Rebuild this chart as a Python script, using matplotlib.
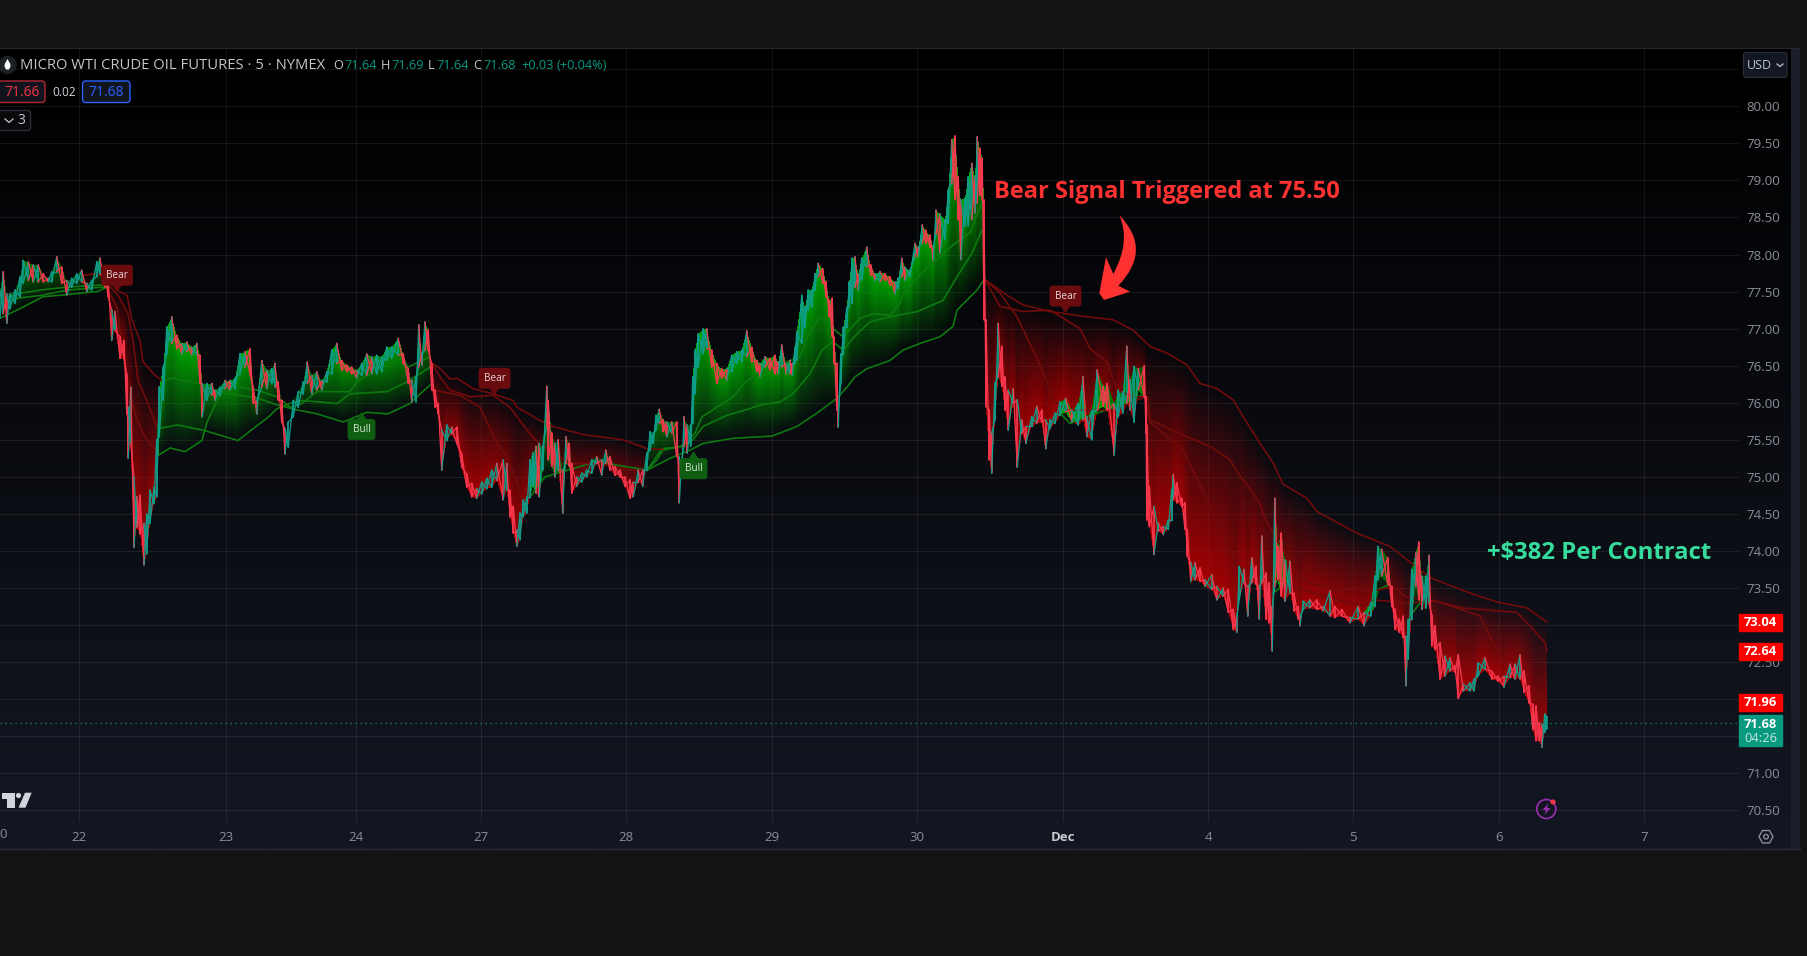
import numpy as np
import matplotlib
matplotlib.use("Agg")
import matplotlib.pyplot as plt
from matplotlib.patches import Rectangle, Polygon, Circle, FancyBboxPatch, PathPatch
from matplotlib.path import Path

plt.rcParams['font.family'] = ['Open Sans', 'DejaVu Sans']

# Constants
WIDTH, HEIGHT = 1807, 956
PANE_RIGHT = 1739
PANE_TOP, PANE_BOTTOM = 48, 821.6
PRICE_TOP, PRICE_BOTTOM = 80.787, 70.347
OUTER_COLOR = '#131313'
TEAL = '#0f9d8c'
RED = '#f8384f'
AXIS_TEXT = '#8b8e97'
MA_RED = '#720b0b'
MA_GREEN = '#0d7a10'

# Axis values
price_ticks = [70.5, 71.0, 71.5, 72.0, 72.5, 73.0, 73.5, 74.0, 74.5, 75.0,
               75.5, 76.0, 76.5, 77.0, 77.5, 78.0, 78.5, 79.0, 79.5, 80.0, 80.5]
date_pos = [79.3, 225.5, 355.5, 480.5, 625.7, 771.7, 917.3, 1063.3, 1208, 1353, 1499, 1644]
date_labels = ['22', '23', '24', '27', '28', '29', '30', 'Dec', '4', '5', '6', '7']

# Bars
bar_x = [0, 3.3, 6.7, 10, 15, 20, 23.3, 28.3, 33.3, 38.3, 43.3, 48.3, 51.7, 56.7, 61.7, 66.7, 71.7, 76.7, 81.7, 86.7,
         91.7, 96.7, 100, 105, 108.3, 111.7, 115, 120, 124, 126.7, 128.3, 130.7, 134, 136.7, 140, 144, 146.7, 150, 154, 156.7,
         159.3, 163.3, 166.7, 171.7, 176.7, 181.7, 186.7, 191.7, 196.7, 200, 202.3, 206.7, 211.7, 215, 220, 225, 230, 235, 240, 245,
         250, 253.3, 256.7, 261.7, 266.7, 271.7, 275, 278.3, 281.7, 285, 288.3, 293.3, 298.3, 303.3, 307.3, 311.7, 316.7, 321.7, 326.7, 331.7,
         336.7, 341.7, 346.7, 351.7, 356.7, 361.7, 366.7, 371.7, 376.7, 381.7, 386.7, 391.7, 398.3, 403.3, 408.3, 411.7, 416, 418.7, 421.7, 425,
         428.3, 431.7, 435, 438.3, 441.7, 446.7, 451.7, 456.7, 461.7, 466.7, 471.7, 476.7, 481.7, 486.7, 491.7, 496.7,
         503.3, 506.7, 510, 513.3, 516.7, 520, 523.3, 526.7, 530, 532.7, 536, 539.3, 542.7, 546.7, 548.3, 551.7, 555, 558.3, 562.7, 566,
         569.3, 571.7, 576.7, 581.7, 586.7, 591.7, 596.7, 601.7, 605.7, 610, 615, 620, 625, 630, 633.3, 638.3, 642.7, 646.7, 650, 653.3,
         656, 659.3, 663.3, 666.7, 671.7, 676.7, 679.3, 681.7, 684, 687.3, 690.7, 692.7, 695, 698.3, 703.3, 706.7, 711.7, 716.7, 721.7, 726.7,
         731.7, 736.7, 741.7, 746.7, 751.7, 756.7,
         760, 765, 770, 775, 778.3, 781.7, 786, 790, 792.3, 795, 796.7, 801.7, 805, 808.3, 811.7, 815, 818.3, 822.7, 826, 829.3,
         832.3, 834, 836.7, 838.3, 840.7, 843.3, 846.7, 849.3, 852, 855, 858.3, 861.7, 866.7, 870.7, 875, 880, 885, 890, 895, 898.3,
         901.7, 905, 910, 915, 918.3, 922.3, 925.7, 930, 933.3, 936,
         940, 945, 948.3, 951.7, 955, 958.3, 960.7, 965, 968.3, 971.7, 975, 977.3, 980, 982.3, 984, 986, 989.3, 991.7, 995, 998.3,
         1001.7, 1005, 1008.3, 1013.3, 1017.3, 1021.7, 1026, 1031.7, 1036.7, 1041.7, 1045.7, 1050, 1055, 1060, 1065.7, 1071.7, 1078.3, 1083, 1086.7, 1091.7,
         1097.3, 1103.3, 1107.3, 1114.3, 1118.3, 1122.7, 1126.7, 1130, 1134, 1138.3, 1144.3, 1146,
         1146.7, 1149.3, 1154, 1158.3, 1163.3, 1168.3, 1171.7, 1173.3, 1176.7, 1181.7, 1185, 1187.3, 1190.7, 1195, 1200, 1205, 1211.7, 1216.7, 1223.3, 1228.3,
         1233.3, 1236.7, 1239.3, 1244, 1247.7, 1251.7, 1256, 1259.3, 1261.7, 1266, 1269.3, 1272.3, 1274.7, 1277.7, 1281.3, 1285, 1290, 1294, 1298.3, 1300,
         1303.3, 1310, 1316.7, 1323.3, 1330, 1335, 1341.7, 1350, 1358.3, 1364, 1370.7, 1375, 1377.7, 1381.7, 1387.7, 1391.7, 1395, 1399.3, 1403.3, 1406,
         1408.3, 1411.7, 1415.7, 1418.7, 1422, 1426, 1429, 1431.7, 1435, 1440, 1445, 1450, 1455, 1458.3, 1463.3, 1470, 1474, 1478.3, 1485, 1491.7,
         1498.3, 1504, 1510, 1515, 1520, 1524, 1529, 1532.7, 1536, 1539.3, 1542, 1544.7, 1546.7]
bar_high = [77.52, 77.77, 77.47, 77.47, 77.52, 77.7, 77.92, 77.9, 77.86, 77.86, 77.74, 77.68, 77.77, 77.97, 77.83, 77.65, 77.68, 77.74, 77.79, 77.61,
            77.65, 77.9, 77.95, 77.74, 77.63, 77.25, 77.23, 76.89, 76.84, 76.39, 75.94, 76.21, 75.0, 74.73, 74.75, 74.37, 74.5, 74.82, 74.86, 75.5,
            76.21, 76.48, 77.02, 77.16, 76.91, 76.8, 76.82, 76.75, 76.8, 76.64, 76.26, 76.26, 76.26, 76.17, 76.21, 76.3, 76.3, 76.33, 76.66, 76.69,
            76.73, 76.21, 76.03, 76.57, 76.44, 76.46, 76.53, 76.28, 76.03, 75.65, 75.74, 76.03, 76.15, 76.28, 76.55, 76.37, 76.42, 76.3, 76.42, 76.71,
            76.8, 76.57, 76.51, 76.48, 76.44, 76.53, 76.66, 76.62, 76.64, 76.62, 76.75, 76.75, 76.87, 76.66, 76.46, 76.3, 76.35, 77.05, 76.66, 77.09,
            76.98, 76.53, 76.17, 75.99, 75.63, 75.7, 75.67, 75.67, 75.31, 75.04, 74.91, 74.84, 74.93, 74.98, 75.09, 75.18,
            75.23, 75.18, 74.82, 74.6, 74.28, 74.51, 74.69, 74.73, 75.23, 75.32, 75.41, 75.45, 75.41, 76.22, 76.03, 75.59, 75.45, 75.5, 75.09, 75.54,
            75.45, 75.18, 75.0, 75.05, 75.09, 75.23, 75.27, 75.23, 75.36, 75.27, 75.14, 75.09, 75.0, 74.96, 74.93, 75.09, 75.09, 75.32, 75.61, 75.59,
            75.83, 75.91, 75.77, 75.74, 75.74, 75.74, 75.27, 75.23, 75.81, 75.7, 75.7, 76.35, 76.71, 76.93, 77.0, 77.0, 76.71, 76.53, 76.46, 76.46,
            76.64, 76.69, 76.71, 76.97, 76.75, 76.57,
            76.53, 76.62, 76.6, 76.64, 76.55, 76.78, 76.53, 76.57, 76.53, 76.75, 76.96, 77.45, 77.29, 77.52, 77.52, 77.74, 77.88, 77.81, 77.63, 77.38,
            77.41, 76.89, 76.53, 75.9, 76.66, 77.02, 77.29, 77.63, 77.95, 77.97, 77.74, 77.95, 78.1, 77.86, 77.74, 77.77, 77.74, 77.7, 77.63, 77.68,
            77.95, 77.83, 77.79, 78.15, 78.1, 78.4, 78.33, 78.26, 78.1, 78.6,
            78.55, 78.47, 78.87, 79.55, 79.6, 79.05, 78.74, 78.76, 79.05, 79.23, 79.05, 79.59, 79.43, 79.3, 78.74, 77.12, 75.9, 75.59, 76.26, 77.07,
            76.76, 76.35, 76.17, 76.19, 76.04, 75.77, 75.68, 75.81, 75.95, 75.9, 75.77, 75.77, 75.86, 76.01, 76.06, 75.9, 75.99, 76.35, 75.81, 75.9,
            76.44, 76.22, 76.26, 75.99, 76.17, 76.15, 76.76, 76.31, 76.49, 76.46, 76.5, 76.08,
            75.7, 74.87, 74.6, 74.38, 74.33, 74.42, 74.83, 75.03, 74.92, 74.71, 74.65, 74.29, 73.84, 73.84, 73.77, 73.61, 73.68, 73.52, 73.5, 73.48,
            73.21, 73.12, 73.79, 73.75, 73.52, 73.91, 73.79, 73.52, 74.2, 73.7, 73.57, 73.25, 74.71, 74.06, 74.24, 73.88, 73.86, 73.43, 73.25, 73.12,
            73.32, 73.34, 73.34, 73.25, 73.46, 73.25, 73.21, 73.1, 73.25, 73.17, 73.3, 73.66, 74.06, 74.02, 73.91, 73.52, 73.21, 73.08, 73.12, 72.85,
            73.08, 73.75, 73.97, 74.12, 73.66, 73.66, 73.94, 73.14, 72.99, 72.76, 72.58, 72.56, 72.45, 72.6, 72.2, 72.22, 72.27, 72.49, 72.56, 72.38,
            72.31, 72.31, 72.47, 72.47, 72.6, 72.38, 72.18, 71.93, 71.91, 71.68, 71.66, 71.8, 71.77]
bar_low = [77.14, 77.2, 77.07, 77.27, 77.34, 77.43, 77.61, 77.65, 77.63, 77.63, 77.63, 77.63, 77.63, 77.77, 77.61, 77.45, 77.56, 77.61, 77.63, 77.5,
           77.52, 77.7, 77.74, 77.56, 77.43, 76.84, 76.98, 76.6, 76.6, 75.85, 75.25, 75.45, 74.05, 74.32, 74.23, 73.81, 73.96, 74.37, 74.64, 74.73,
           75.54, 76.03, 76.66, 76.8, 76.73, 76.66, 76.69, 76.64, 76.64, 76.26, 75.81, 76.03, 76.1, 76.03, 76.1, 76.19, 76.17, 76.19, 76.39, 76.48,
           76.39, 75.99, 75.85, 76.21, 76.19, 76.26, 76.21, 76.03, 75.74, 75.31, 75.4, 75.81, 75.94, 76.12, 76.26, 76.12, 76.17, 76.17, 76.28, 76.39,
           76.53, 76.44, 76.42, 76.39, 76.33, 76.37, 76.37, 76.39, 76.39, 76.42, 76.57, 76.6, 76.64, 76.53, 76.26, 76.01, 76.01, 76.48, 76.51, 76.71,
           76.71, 76.17, 75.94, 75.85, 75.09, 75.49, 75.58, 75.45, 75.13, 74.86, 74.73, 74.71, 74.77, 74.84, 74.86, 74.95,
           74.69, 74.82, 74.46, 74.24, 74.06, 74.15, 74.46, 74.51, 74.73, 74.87, 74.78, 74.73, 75.09, 75.68, 75.23, 75.14, 75.0, 75.09, 74.51, 75.18,
           75.14, 74.78, 74.87, 74.93, 75.0, 75.05, 75.18, 75.02, 75.18, 75.09, 75.02, 75.0, 74.87, 74.71, 74.73, 74.93, 74.87, 75.09, 75.36, 75.45,
           75.63, 75.72, 75.61, 75.54, 75.59, 75.27, 74.65, 75.0, 75.41, 75.32, 75.41, 75.72, 76.12, 76.48, 76.66, 76.73, 76.48, 76.26, 76.33, 76.3,
           76.42, 76.53, 76.55, 76.62, 76.55, 76.42,
           76.35, 76.48, 76.44, 76.39, 76.39, 76.48, 76.39, 76.39, 76.37, 76.53, 76.57, 76.8, 77.02, 77.25, 77.29, 77.52, 77.7, 77.61, 77.43, 77.16,
           76.89, 76.53, 75.9, 75.67, 76.26, 76.66, 77.02, 77.29, 77.34, 77.56, 77.52, 77.65, 77.83, 77.72, 77.65, 77.63, 77.65, 77.59, 77.47, 77.54,
           77.7, 77.65, 77.7, 77.97, 77.97, 78.15, 78.15, 78.1, 77.92, 78.28,
           78.02, 78.2, 78.42, 78.96, 78.74, 78.47, 77.93, 78.38, 78.38, 78.47, 78.56, 78.69, 78.8, 78.74, 77.12, 75.95, 75.23, 75.05, 75.77, 76.35,
           76.22, 75.9, 75.63, 75.99, 75.13, 75.59, 75.45, 75.68, 75.72, 75.74, 75.38, 75.65, 75.72, 75.83, 75.88, 75.74, 75.7, 75.77, 75.54, 75.5,
           75.9, 75.95, 75.9, 75.29, 75.81, 75.86, 75.99, 75.9, 75.74, 76.17, 76.08, 75.59,
           74.42, 74.33, 73.95, 74.27, 74.22, 74.29, 74.42, 74.69, 74.65, 74.6, 74.29, 73.93, 73.59, 73.61, 73.59, 73.52, 73.48, 73.34, 73.39, 73.17,
           72.94, 72.9, 73.34, 73.57, 73.12, 73.57, 73.55, 73.08, 73.57, 73.08, 73.03, 72.65, 73.52, 73.61, 73.39, 73.32, 73.43, 73.19, 73.08, 72.99,
           73.21, 73.23, 73.21, 73.19, 73.12, 73.1, 73.12, 73.03, 73.08, 72.99, 73.12, 73.25, 73.61, 73.66, 73.55, 73.25, 72.94, 72.9, 72.83, 72.18,
           72.54, 73.08, 73.52, 73.34, 73.21, 73.23, 73.3, 72.72, 72.67, 72.27, 72.31, 72.38, 72.36, 72.01, 72.11, 72.11, 72.11, 72.31, 72.4, 72.27,
           72.24, 72.16, 72.29, 72.27, 72.27, 72.09, 71.95, 71.59, 71.44, 71.44, 71.35, 71.55, 71.59]

# Moving averages, each run of the signal has three lines
bull0_x1 = [0, 20, 43, 67, 97, 107]
bull0_y1 = [77.14, 77.27, 77.43, 77.46, 77.5, 77.56]
bull0_x2 = [0, 17, 42, 67, 103, 107]
bull0_y2 = [77.34, 77.41, 77.45, 77.52, 77.56, 77.58]
bull0_x3 = [0, 17, 40, 67, 103, 107]
bull0_y3 = [77.38, 77.47, 77.52, 77.56, 77.59, 77.6]

bear1_x1 = [83, 97, 107, 117, 127, 132, 140, 143, 155, 164]
bear1_y1 = [77.72, 77.74, 77.68, 77.52, 77.45, 77.11, 76.84, 76.55, 76.37, 76.28]
bear1_x2 = [107, 118, 128, 133, 138, 148, 157]
bear1_y2 = [77.61, 77.45, 77.2, 76.84, 76.3, 75.99, 75.67]
bear1_x3 = [108, 117, 125, 132, 137, 147, 157]
bear1_y3 = [77.52, 77.29, 76.48, 76.03, 75.76, 75.49, 75.35]

bull1_x1 = [163, 173, 200, 213, 240, 258, 277, 298, 317, 343, 367, 388, 410, 430]
bull1_y1 = [76.3, 76.33, 76.26, 76.15, 76.1, 76.06, 75.97, 75.9, 75.85, 75.74, 75.87, 75.85, 75.99, 76.24]
bull1_x2 = [158, 177, 203, 238, 253, 267, 277, 290, 302, 337, 350, 387, 407, 430]
bull1_y2 = [75.65, 75.7, 75.63, 75.49, 75.65, 75.79, 75.92, 75.99, 76.03, 75.99, 76.12, 76.15, 76.28, 76.48]
bull1_x3 = [157, 170, 185, 202, 207, 217, 223, 240, 257, 277, 290, 302, 317, 350, 358, 383, 403, 408, 430]
bull1_y3 = [75.28, 75.39, 75.34, 75.49, 75.74, 76.03, 76.15, 76.21, 76.17, 76.08, 75.94, 75.99, 76.15, 76.15, 76.3, 76.48, 76.6, 76.48, 76.62]

bear2_x1 = [432, 440, 450, 457, 473, 493, 513, 517, 540, 553, 583, 623, 647, 663]
bear2_y1 = [76.53, 76.46, 76.32, 76.33, 76.19, 76.12, 76.03, 75.94, 75.76, 75.68, 75.57, 75.5, 75.38, 75.37]
bear2_x2 = [433, 440, 450, 470, 493, 510, 527, 540, 550, 570, 600, 630, 647]
bear2_y2 = [76.5, 76.35, 76.17, 76.08, 76.1, 75.94, 75.63, 75.43, 75.36, 75.18, 75.18, 75.09, 75.09]
bear2_x3 = [433, 460, 480, 487, 497, 507, 520, 530]
bear2_y3 = [76.17, 76.1, 75.94, 75.74, 75.45, 75.27, 74.82, 74.73]

bull2_x1 = [647, 670, 690, 703, 733, 772, 797, 817, 837, 847, 855, 867, 890, 903, 920, 940, 953, 957, 977, 985]
bull2_y1 = [75.09, 75.25, 75.36, 75.45, 75.52, 75.55, 75.68, 75.86, 76.06, 76.21, 76.35, 76.46, 76.57, 76.71, 76.8, 76.89, 77.03, 77.25, 77.52, 77.68]
bull2_x2 = [647, 657, 663, 680, 693, 703, 727, 750, 760, 780, 793, 810, 822, 833, 843, 857, 870, 890, 917, 943, 957, 972, 982]
bull2_y2 = [75.09, 75.23, 75.36, 75.41, 75.5, 75.68, 75.83, 75.92, 75.97, 76.01, 76.12, 76.39, 76.71, 76.82, 76.71, 76.93, 77.09, 77.16, 77.23, 77.38, 77.7, 78.02, 78.33]
bull2_x3 = [647, 662, 683, 695, 702, 717, 733, 743, 750, 783, 800, 808, 820, 833, 843, 860, 873, 890, 900, 903, 917, 930, 940, 953, 970, 983]
bull2_y3 = [75.09, 75.38, 75.41, 75.59, 75.81, 75.94, 76.08, 76.24, 76.33, 76.53, 76.62, 76.91, 77.16, 77.0, 76.89, 77.14, 77.2, 77.18, 77.34, 77.45, 77.68, 77.86, 77.97, 78.13, 78.29, 78.74]

bear3_x1 = [985, 1007, 1023, 1050, 1087, 1113, 1133, 1150, 1167, 1187, 1200, 1217, 1233, 1245, 1263, 1273, 1283, 1307, 1317, 1357, 1390, 1407, 1430, 1470, 1497, 1527, 1547]
bear3_y1 = [77.66, 77.45, 77.32, 77.23, 77.16, 77.12, 76.98, 76.76, 76.67, 76.51, 76.26, 76.19, 76.04, 75.77, 75.39, 75.19, 74.9, 74.71, 74.53, 74.24, 74.06, 73.88, 73.64, 73.43, 73.31, 73.23, 73.04]
bear3_x2 = [985, 1000, 1023, 1050, 1080, 1090, 1107, 1117, 1133, 1148, 1150, 1187, 1210, 1230, 1237, 1258, 1267, 1297, 1310, 1337, 1373, 1393, 1407, 1430, 1463, 1517, 1527, 1545, 1547]
bear3_y2 = [77.66, 77.3, 77.23, 77.25, 77.0, 76.73, 76.55, 76.17, 76.08, 76.08, 75.77, 75.54, 75.41, 75.23, 75.07, 74.69, 74.38, 73.7, 73.57, 73.48, 73.46, 73.52, 73.37, 73.34, 73.23, 73.17, 73.03, 72.76, 72.64]
bear3_x3 = [985, 1000, 1017, 1033, 1045, 1053, 1067, 1113, 1145, 1150, 1163, 1183, 1202, 1220, 1237, 1273, 1297, 1347, 1363, 1372, 1407, 1437, 1480, 1493, 1500, 1523, 1547]
bear3_y3 = [77.66, 77.48, 77.16, 76.71, 76.35, 76.04, 75.9, 75.9, 76.08, 75.74, 75.59, 75.36, 74.83, 74.34, 73.79, 73.64, 73.5, 73.3, 73.25, 73.34, 73.3, 73.32, 73.12, 72.76, 72.58, 72.31, 71.96]

# Short green pieces inside the bear runs
bit_x1 = [530, 545, 563, 590, 607, 647]
bit_y1 = [74.73, 75.0, 75.07, 75.18, 75.18, 75.09]
bit_x2 = [1060, 1070, 1097, 1127, 1145]
bit_y2 = [75.86, 75.72, 75.86, 75.99, 76.13]
bit_x3 = [1273, 1287]
bit_y3 = [73.43, 73.57]
bit_x4 = [1363, 1373, 1378, 1390]
bit_y4 = [73.14, 73.21, 73.48, 73.55]
bit_x5 = [1410, 1420, 1430]
bit_y5 = [73.12, 73.3, 73.43]

bull_runs = [[(bull0_x1, bull0_y1), (bull0_x2, bull0_y2), (bull0_x3, bull0_y3)],
             [(bull1_x1, bull1_y1), (bull1_x2, bull1_y2), (bull1_x3, bull1_y3)],
             [(bull2_x1, bull2_y1), (bull2_x2, bull2_y2), (bull2_x3, bull2_y3)],
             [(bit_x1, bit_y1)], [(bit_x2, bit_y2)], [(bit_x3, bit_y3)], [(bit_x4, bit_y4)], [(bit_x5, bit_y5)]]
bear_runs = [[(bear1_x1, bear1_y1), (bear1_x2, bear1_y2), (bear1_x3, bear1_y3)],
             [(bear2_x1, bear2_y1), (bear2_x2, bear2_y2), (bear2_x3, bear2_y3)],
             [(bear3_x1, bear3_y1), (bear3_x2, bear3_y2), (bear3_x3, bear3_y3)]]

# Signal tags: x, price of box centre
bear_tags = [(117, 77.72), (494.5, 76.33), (1065.5, 77.44)]
bull_tags = [(361.5, 75.64), (693.5, 75.11)]
price_tags = [73.04, 72.64, 71.96]
last_price = 71.68

bar_x = np.array(bar_x)
bar_high = np.array(bar_high)
bar_low = np.array(bar_low)
bar_mid = (bar_high + bar_low) / 2

fig = plt.figure(figsize=(WIDTH / 100, HEIGHT / 100), dpi=100, facecolor=OUTER_COLOR)

# Pane background, black at the top going to dark blue at the bottom
bg = fig.add_axes([0, (HEIGHT - 849) / HEIGHT, 1791 / WIDTH, (849 - PANE_TOP) / HEIGHT], zorder=0)
grad = np.linspace(0, 1, 256)[:, None, None] * np.array([[[0x13, 0x17, 0x22]]]) / 255
bg.imshow(grad, aspect='auto', interpolation='bilinear')
bg.axis('off')

ax = fig.add_axes([0, (HEIGHT - PANE_BOTTOM) / HEIGHT, PANE_RIGHT / WIDTH, (PANE_BOTTOM - PANE_TOP) / HEIGHT], zorder=1)
ax.set_facecolor('none')
for s in ax.spines.values():
    s.set_visible(False)


# Gradient between the price and the furthest moving average
def shade(rgba, rows, cols, runs, rgb, bull):
    for run in runs:
        x0 = min(r[0][0] for r in run)
        x1 = max(r[0][-1] for r in run)
        use = (cols >= x0) & (cols <= x1)
        stack = []
        for xs, ys in run:
            stack.append(np.interp(cols[use], xs, ys, left=np.nan, right=np.nan))
        far = np.nanmin(stack, axis=0) if bull else np.nanmax(stack, axis=0)
        price = np.interp(cols[use], bar_x, bar_high if bull else bar_low)
        dist = (price - far) if bull else (far - price)
        idx = np.where(use)[0]
        for j, c in enumerate(idx):
            if dist[j] <= 0:
                continue
            t = (rows - far[j]) / dist[j] if bull else (far[j] - rows) / dist[j]
            t = np.clip(t, 0, 1)
            t[(rows > price[j]) if bull else (rows < price[j])] = 0
            a = t * min(0.92, 0.25 + 0.7 * dist[j])
            rgba[:, c, 3] = np.maximum(rgba[:, c, 3], a)
            on = a > 0
            rgba[on, c, 0] = rgb[0]
            rgba[on, c, 1] = rgb[1]
            rgba[on, c, 2] = rgb[2]


cols = np.arange(0, 1548) + 0.5
rows = np.linspace(PRICE_BOTTOM, PRICE_TOP, 774)
rgba = np.zeros((len(rows), len(cols), 4))
shade(rgba, rows, cols, bear_runs, (0.72, 0, 0), False)
shade(rgba, rows, cols, bull_runs, (0, 0.72, 0), True)
ax.imshow(rgba, origin='lower', aspect='auto', extent=(0, 1548, PRICE_BOTTOM, PRICE_TOP),
          interpolation='nearest', zorder=2)

for run in bull_runs:
    for xs, ys in run:
        ax.plot(xs, ys, color=MA_GREEN, lw=1.2, zorder=3)
for run in bear_runs:
    for xs, ys in run:
        ax.plot(xs, ys, color=MA_RED, lw=1.2, zorder=3)

# Candles, one colour for each move up or down, crossed strokes fill the gap to the bar before
for i in range(1, len(bar_x)):
    c = TEAL if bar_mid[i] >= bar_mid[i - 1] else RED
    ax.plot([bar_x[i - 1], bar_x[i]], [bar_high[i - 1], bar_low[i]], color=c, lw=0.9, zorder=4)
    ax.plot([bar_x[i - 1], bar_x[i]], [bar_low[i - 1], bar_high[i]], color=c, lw=0.9, zorder=4)
    ax.vlines(bar_x[i], bar_low[i], bar_high[i], color=c, lw=1.2, zorder=4)

ax.axhline(last_price, color='#089981', lw=0.9, ls=(0, (1, 3)), zorder=3)

# Axes
ax.set_xlim(0, PANE_RIGHT)
ax.set_ylim(PRICE_BOTTOM, PRICE_TOP)
ax.set_axisbelow(True)
ax.grid(True, color='white', alpha=0.075, lw=0.75)
ax.yaxis.tick_right()
ax.set_yticks(price_ticks)
ax.set_yticklabels(['{:.2f}'.format(p) if p < 80.5 else '' for p in price_ticks])
ax.set_xticks(date_pos)
ax.set_xticklabels(date_labels)
ax.tick_params(axis='both', length=0, colors=AXIS_TEXT, labelsize=9.5)
ax.tick_params(axis='y', pad=5.5)
ax.tick_params(axis='x', pad=6.5)
ax.get_xticklabels()[7].set_color('#c8cad0')
ax.get_xticklabels()[7].set_fontweight('bold')
ax.text(3, PRICE_BOTTOM - 0.18, '0', color=AXIS_TEXT, fontsize=9.5, ha='center', va='center', clip_on=False)

# Price tags on the right side
for p in price_tags:
    ax.add_patch(Rectangle((1739, p - 0.115), 43, 0.23, color='#ff0000', clip_on=False, zorder=6))
    ax.text(1760.5, p, '{:.2f}'.format(p), color='white', fontsize=9.3, fontweight='bold', ha='center', va='center',
            clip_on=False, zorder=7)
ax.add_patch(Rectangle((1739, last_price - 0.31), 43, 0.41, color='#089981', clip_on=False, zorder=6))
ax.text(1760.5, last_price - 0.02, '{:.2f}'.format(last_price), color='white', fontsize=9.3, fontweight='bold',
        ha='center', va='center', clip_on=False, zorder=7)
ax.text(1760.5, last_price - 0.205, '04:26', color='#c4e8e0', fontsize=9.3, ha='center', va='center',
        clip_on=False, zorder=7)

# Bear and Bull tags
for x, p in bear_tags:
    ax.add_patch(Polygon([(x - 6, p - 0.1), (x + 6, p - 0.1), (x, p - 0.21)], color='#6a0c0e', zorder=5))
    ax.text(x, p, 'Bear', color='#e8d5d5', fontsize=7.2, ha='center', va='center', zorder=6,
            bbox=dict(boxstyle='round,pad=0.5,rounding_size=0.3', fc='#6a0c0e', ec='none'))
for x, p in bull_tags:
    ax.add_patch(Polygon([(x - 6, p + 0.1), (x + 6, p + 0.1), (x, p + 0.22)], color='#0f5e12', zorder=5))
    ax.text(x, p, 'Bull', color='#d5e6d5', fontsize=7.2, ha='center', va='center', zorder=6,
            bbox=dict(boxstyle='round,pad=0.5,rounding_size=0.3', fc='#0f5e12', ec='none'))

# Everything else is placed in image pixels
ov = fig.add_axes([0, 0, 1, 1], zorder=5)
ov.set_xlim(0, WIDTH)
ov.set_ylim(HEIGHT, 0)
ov.axis('off')

ov.add_patch(Rectangle((1791, 48), 9, 801, color='#1b1f2c', lw=0))
ov.plot([0, 1800], [47.5, 47.5], color='#26282e', lw=0.8)
ov.plot([0, 1800], [849, 849], color='#2a2e39', lw=1)

# Header
ov.add_patch(Circle((7.5, 65), 8.5, color='#1c1f26'))
ov.add_patch(Polygon([(7.5, 59), (10.3, 64), (10.5, 66.5), (9, 69.5), (6, 69.5), (4.5, 66.5), (4.7, 64)], color='white', lw=0))
ov.text(20.5, 65, 'MICRO WTI CRUDE OIL FUTURES · 5 · NYMEX', color='#c4c6cc', fontsize=10.6, va='center')
ohlc_text = [(333, 'O', '#c4c6cc'), (344, '71.64', '#089981'), (381, 'H', '#c4c6cc'), (391.5, '71.69', '#089981'),
             (428, 'L', '#c4c6cc'), (436, '71.64', '#089981'), (473, 'C', '#c4c6cc'), (483, '71.68', '#089981'),
             (521, '+0.03', '#089981'), (557, '(+0.04%)', '#089981')]
for x, s, c in ohlc_text:
    ov.text(x, 65, s, color=c, fontsize=9.2, va='center')

ov.add_patch(FancyBboxPatch((-3, 81), 48, 21.5, boxstyle='round,pad=0,rounding_size=3', fc='#11141c', ec='#b22837', lw=1))
ov.text(22, 92, '71.66', color='#f23645', fontsize=10, ha='center', va='center')
ov.text(64, 92, '0.02', color='#d1d4dc', fontsize=8.6, ha='center', va='center')
ov.add_patch(FancyBboxPatch((82.5, 81), 47.5, 21.5, boxstyle='round,pad=0,rounding_size=3', fc='#11141c', ec='#2962ff', lw=1))
ov.text(106, 92, '71.68', color='#2962ff', fontsize=10, ha='center', va='center')
ov.add_patch(FancyBboxPatch((-3, 110.5), 33.5, 20, boxstyle='round,pad=0,rounding_size=3', fc='#0a0a0d', ec='#2a2e39', lw=1))
ov.plot([5, 9, 13], [119, 122.5, 119], color='#c4c6cc', lw=0.9)
ov.text(21.5, 120.5, '3', color='#c4c6cc', fontsize=10, ha='center', va='center')

# USD button
ov.add_patch(FancyBboxPatch((1743.5, 52.5), 43.5, 25, boxstyle='round,pad=0,rounding_size=3', fc='#131722', ec='#2a2e39', lw=0.9))
ov.text(1747, 65, 'USD', color='#b9c4dc', fontsize=9, va='center')
ov.plot([1777, 1780, 1783], [64, 66.5, 64], color='#c4c6cc', lw=0.9)

# Annotations put on top of the screenshot
ov.text(994, 191.5, 'Bear Signal Triggered at 75.50', color='#ff3131', fontsize=17, fontweight='bold', va='center')
ov.text(1487, 553.5, '+$382 Per Contract', color='#36dc9c', fontsize=17.2, fontweight='bold', va='center')
arrow_verts = [(1119.3, 215), (1153, 250), (1118.3, 285.7), (1130, 291.7), (1104, 300), (1099.3, 293.3), (1106, 257.3),
               (1113.3, 274), (1131, 241.5), (1119.3, 215)]
arrow_codes = [Path.MOVETO, Path.CURVE3, Path.CURVE3, Path.LINETO, Path.LINETO, Path.LINETO, Path.LINETO,
               Path.LINETO, Path.CURVE3, Path.CURVE3]
ov.add_patch(PathPatch(Path(arrow_verts, arrow_codes), fc='#ff3131', lw=0))

# TradingView logo
ov.add_patch(Polygon([(1.7, 792.7), (15, 792.7), (15, 807.7), (7, 807.7), (7, 798.5), (1.7, 798.5)], color='#d1d4dc', lw=0))
ov.add_patch(Circle((18.5, 795.5), 2.6, color='#d1d4dc', lw=0))
ov.add_patch(Polygon([(25, 792.7), (31.7, 792.7), (25.5, 807.7), (18.5, 807.7)], color='#d1d4dc', lw=0))

# Lightning icon
ov.add_patch(Circle((1546.3, 809), 9.5, fc='none', ec='#9c2fb0', lw=1.2))
ov.add_patch(Polygon([(1548.5, 803), (1542.5, 810), (1546, 810), (1544.5, 815), (1550.5, 808), (1547, 808)], color='#9c2fb0', lw=0))
ov.add_patch(Circle((1553, 802), 2.6, color='#f23645', lw=0))

# Settings icon
ov.add_patch(Polygon([(1759, 836.7), (1762.5, 830.5), (1769.5, 830.5), (1773, 836.7), (1769.5, 843), (1762.5, 843)],
                     fc='none', ec='#8b8e97', lw=1))
ov.add_patch(Circle((1766, 836.7), 2.3, fc='none', ec='#8b8e97', lw=1))

fig.savefig('out.png', dpi=100, facecolor=OUTER_COLOR)
